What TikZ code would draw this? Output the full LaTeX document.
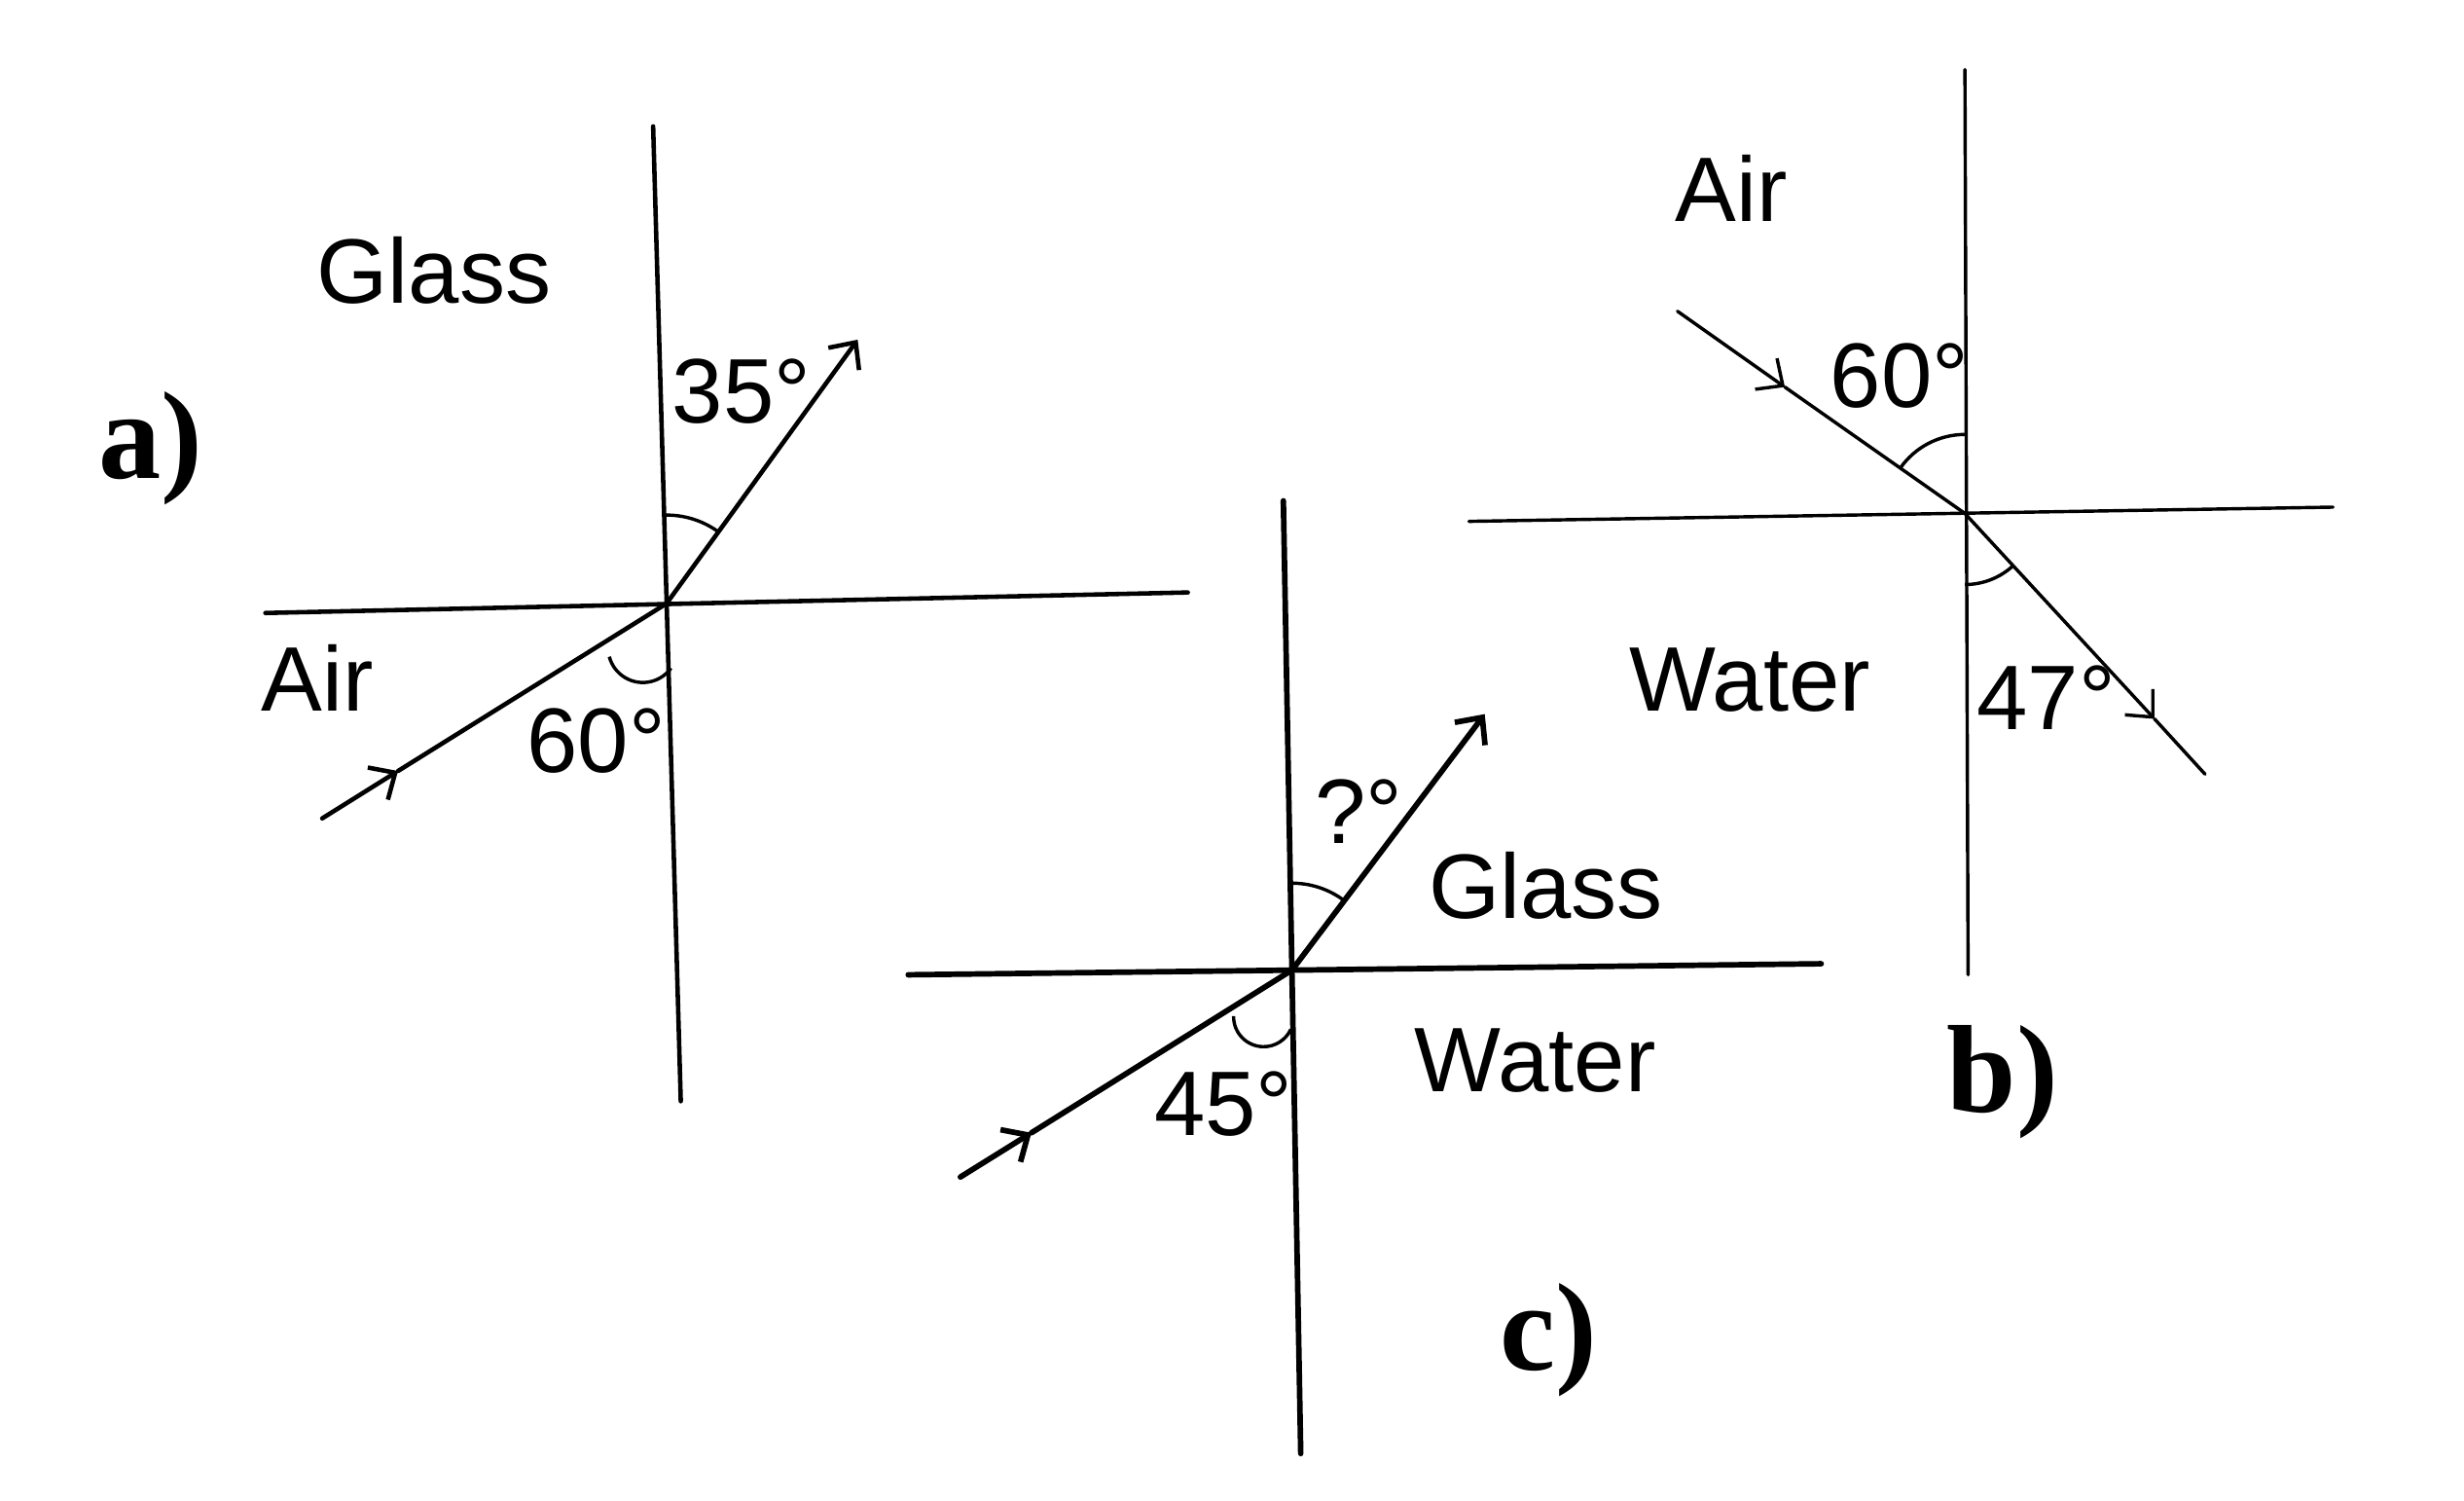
\documentclass[tikz,border=0pt]{standalone}
\usepackage{fontspec}
\setmainfont{Liberation Sans}
\newfontfamily\tagfont{Liberation Serif}
\usetikzlibrary{calc}
\usetikzlibrary{arrows.meta}

\tikzset{
  ray/.style={line width=0.8pt, line cap=round},
  anglemark/.style={line width=0.6pt},
  lbl/.style={anchor=base west, inner sep=0pt, font=\fontsize{16.5}{18}\selectfont},
  tag/.style={anchor=base west, inner sep=0pt, font=\tagfont\bfseries\fontsize{22.5}{24}\selectfont},
  >={Straight Barb[length=1.3mm,width=2.4mm]}
}

\begin{document}
\begin{tikzpicture}
\useasboundingbox (0,0) rectangle (15.6,9.5);

% a) air into glass
\coordinate (Oa) at (4.22,5.68);
\coordinate (ina) at (2.04,4.32);
\coordinate (marka) at (2.52,4.62);
\coordinate (outa) at (5.43,7.35);
\coordinate (cupa) at (4.07,5.40);
\draw[ray] (4.135,8.70) -- (4.31,2.53);
\draw[ray] (1.68,5.62) -- (7.52,5.75);
\draw[ray,->] (ina) -- (marka);
\draw[ray] (marka) -- (Oa);
\draw[ray,->] (Oa) -- (outa);
\draw[anglemark] ($(Oa)+(91.6:0.56)$) arc (91.6:54.1:0.56);
\draw[anglemark] ($(cupa)+(195:0.22)$) arc (195:324:0.22);
\node[lbl] (glassa) at (2.00,7.58) {Glass};
\node[lbl] (aira) at (1.65,5.00) {Air};
\node[lbl] (angouta) at (4.25,6.825) {35°};
\node[lbl] (angina) at (3.33,4.61) {60°};
\node[tag] (taga) at (0.62,6.47) {a)};

% b) air into water
\coordinate (Ob) at (12.44,6.25);
\coordinate (inb) at (10.62,7.53);
\coordinate (markb) at (11.30,7.05);
\coordinate (outb) at (13.96,4.60);
\coordinate (markb2) at (13.64,4.95);
\draw[ray,line width=0.6pt] (12.44,9.06) -- (12.46,3.33);
\draw[ray,line width=0.6pt] (9.30,6.20) -- (14.77,6.29);
\draw[ray,line width=0.6pt,->] (inb) -- (markb);
\draw[ray,line width=0.6pt] (markb) -- (Ob);
\draw[ray,line width=0.6pt,->] (Ob) -- (markb2);
\draw[ray,line width=0.6pt] (markb2) -- (outb);
\draw[anglemark] ($(Ob)+(90:0.50)$) arc (90:144.9:0.50);
\draw[anglemark] ($(Ob)+(270:0.45)$) arc (270:312.7:0.45);
\node[lbl] (airb) at (10.60,8.10) {Air};
\node[lbl] (anginb) at (11.58,6.92) {60°};
\node[lbl] (waterb) at (10.31,5.00) {Water};
\node[lbl] (angoutb) at (12.51,4.885) {47°};
\node[tag] (tagb) at (12.32,2.46) {b)};

% c) water into glass
\coordinate (Oc) at (8.18,3.36);
\coordinate (inc) at (6.08,2.05);
\coordinate (markc) at (6.53,2.33);
\coordinate (outc) at (9.40,4.98);
\coordinate (cupc) at (8.00,3.065);
\draw[ray,line width=1pt] (8.125,6.33) -- (8.235,0.30);
\draw[ray,line width=1pt] (5.75,3.33) -- (11.53,3.40);
\draw[ray,line width=1pt,->] (inc) -- (markc);
\draw[ray,line width=1pt] (markc) -- (Oc);
\draw[ray,line width=1pt,->] (Oc) -- (outc);
\draw[anglemark] ($(Oc)+(91.1:0.55)$) arc (91.1:53.0:0.55);
\draw[anglemark] ($(cupc)+(179:0.19)$) arc (179:335:0.19);
\node[lbl] (angoutc) at (8.32,4.16) {?°};
\node[lbl] (glassc) at (9.04,3.69) {Glass};
\node[lbl] (waterc) at (8.95,2.59) {Water};
\node[lbl] (anginc) at (7.30,2.31) {45°};
\node[tag] (tagc) at (9.49,0.83) {c)};
\end{tikzpicture}
\end{document}
